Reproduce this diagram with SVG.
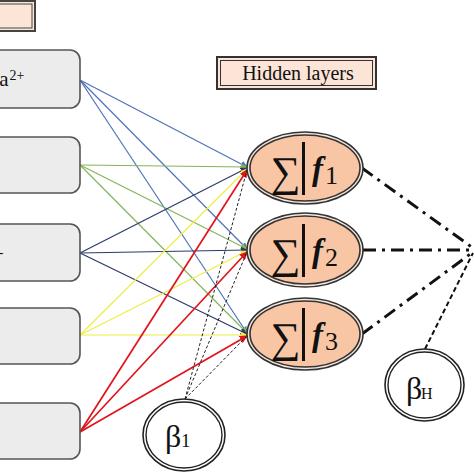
<svg xmlns="http://www.w3.org/2000/svg" width="474" height="474" viewBox="0 0 474 474">
  <style>
    .inbox { fill: #ececec; stroke: #555; stroke-width: 1.6; }
    .serif { font-family: "Liberation Serif", "DejaVu Serif", serif; fill: #111; }
    .outer { fill: #f5e8df; stroke: #333; stroke-width: 1.6; }
    .inner { fill: #f8c6a5; stroke: #333; stroke-width: 1.6; }
    .bouter { fill: #fff; stroke: #222; stroke-width: 1.6; }
    .binner { fill: #fff; stroke: #222; stroke-width: 1.4; }
    .c { fill: none; stroke-width: 1.2; }
    .blue { stroke: #4f72b8; }
    .green { stroke: #86b45a; }
    .navy { stroke: #2b3a6b; }
    .yellow { stroke: #eeee44; }
    .red { stroke: #e0141c; stroke-width: 1.7; }
    .bias { fill: none; stroke: #222; stroke-width: 1; stroke-dasharray: 3 2; }
    .dd { fill: none; stroke: #111; stroke-width: 3; stroke-dasharray: 13 6 3 6; }
    .dash { fill: none; stroke: #111; stroke-width: 2; stroke-dasharray: 5 3; }
  </style>
  <defs>
    <marker id="aBlue" viewBox="0 0 10 10" refX="9" refY="5" markerWidth="7" markerHeight="7" markerUnits="userSpaceOnUse" orient="auto"><path d="M0,0 L10,5 L0,10 z" fill="#4f72b8"/></marker>
    <marker id="aGreen" viewBox="0 0 10 10" refX="9" refY="5" markerWidth="7" markerHeight="7" markerUnits="userSpaceOnUse" orient="auto"><path d="M0,0 L10,5 L0,10 z" fill="#86b45a"/></marker>
    <marker id="aNavy" viewBox="0 0 10 10" refX="9" refY="5" markerWidth="7" markerHeight="7" markerUnits="userSpaceOnUse" orient="auto"><path d="M0,0 L10,5 L0,10 z" fill="#2b3a6b"/></marker>
    <marker id="aYellow" viewBox="0 0 10 10" refX="9" refY="5" markerWidth="7" markerHeight="7" markerUnits="userSpaceOnUse" orient="auto"><path d="M0,0 L10,5 L0,10 z" fill="#eeee44"/></marker>
    <marker id="aRed" viewBox="0 0 10 10" refX="9" refY="5" markerWidth="8" markerHeight="8" markerUnits="userSpaceOnUse" orient="auto"><path d="M0,0 L10,5 L0,10 z" fill="#e0141c"/></marker>
  </defs>
  <rect width="474" height="474" fill="#fff"/>

  <!-- top-left partial label box -->
  <g id="label-input">
    <rect x="-10" y="1" width="45" height="30" fill="#fce4d6" stroke="#444" stroke-width="2"/>
    <rect x="-10" y="4" width="42" height="24" fill="none" stroke="#444" stroke-width="1"/>
  </g>

  <!-- Hidden layers label -->
  <g id="label-hidden">
    <rect x="217" y="57" width="159" height="32" fill="#fce4d6" stroke="#333" stroke-width="2"/>
    <rect x="220.5" y="60.5" width="152" height="25" fill="none" stroke="#333" stroke-width="1"/>
    <text class="serif" x="298" y="80" font-size="20" text-anchor="middle">Hidden layers</text>
  </g>

  <!-- connectors -->
  <g id="connectors">
    <line class="c blue" x1="80" y1="80" x2="247" y2="167" marker-end="url(#aBlue)"/>
    <line class="c blue" x1="80" y1="80" x2="247" y2="249" marker-end="url(#aBlue)"/>
    <line class="c blue" x1="80" y1="80" x2="247" y2="333" marker-end="url(#aBlue)"/>
    <line class="c green" x1="80" y1="165" x2="247" y2="167" marker-end="url(#aGreen)"/>
    <line class="c green" x1="80" y1="165" x2="247" y2="249" marker-end="url(#aGreen)"/>
    <line class="c green" x1="80" y1="165" x2="247" y2="333" marker-end="url(#aGreen)"/>
    <line class="c navy" x1="80" y1="253" x2="247" y2="168" marker-end="url(#aNavy)"/>
    <line class="c navy" x1="80" y1="253" x2="247" y2="250" marker-end="url(#aNavy)"/>
    <line class="c navy" x1="80" y1="253" x2="247" y2="334" marker-end="url(#aNavy)"/>
    <line class="c yellow" x1="80" y1="335" x2="247" y2="169" marker-end="url(#aYellow)"/>
    <line class="c yellow" x1="80" y1="335" x2="247" y2="251" marker-end="url(#aYellow)"/>
    <line class="c yellow" x1="80" y1="335" x2="247" y2="335" marker-end="url(#aYellow)"/>
    <line class="c red" x1="80" y1="432" x2="247" y2="170" marker-end="url(#aRed)"/>
    <line class="c red" x1="80" y1="432" x2="247" y2="252" marker-end="url(#aRed)"/>
    <line class="c red" x1="80" y1="432" x2="247" y2="336" marker-end="url(#aRed)"/>
    <line class="bias" x1="185" y1="399" x2="247" y2="170"/>
    <line class="bias" x1="185" y1="399" x2="247" y2="252"/>
    <line class="bias" x1="185" y1="399" x2="247" y2="336"/>
    <line class="dd" x1="362" y1="168" x2="473" y2="248"/>
    <line class="dd" x1="363" y1="250" x2="473" y2="250"/>
    <line class="dd" x1="362" y1="334" x2="473" y2="252"/>
    <line class="dash" x1="425" y1="349" x2="473" y2="253"/>
  </g>

  <!-- input nodes -->
  <g id="input1">
    <rect class="inbox" x="-12" y="50" width="92" height="58" rx="10"/>
    <text class="serif" x="8.5" y="86" font-size="21" text-anchor="end">a</text>
    <text class="serif" x="9.5" y="80" font-size="14">2+</text>
  </g>
  <g id="input2"><rect class="inbox" x="-12" y="137" width="92" height="56" rx="10"/></g>
  <g id="input3">
    <rect class="inbox" x="-12" y="224" width="92" height="57" rx="10"/>
    <text class="serif" x="3.5" y="257" font-size="14" text-anchor="end">-</text>
  </g>
  <g id="input4"><rect class="inbox" x="-12" y="308" width="92" height="56" rx="10"/></g>
  <g id="input5"><rect class="inbox" x="-12" y="403" width="92" height="56" rx="10"/></g>

  <!-- hidden neurons -->
  <g id="hidden1">
    <ellipse class="outer" cx="305" cy="168" rx="58" ry="36"/>
    <ellipse class="inner" cx="305" cy="168" rx="55" ry="33"/>
    <text class="serif" x="285.5" y="186" font-size="42" text-anchor="middle">∑</text>
    <line x1="303.5" y1="142" x2="303.5" y2="195" stroke="#111" stroke-width="3"/>
    <text class="serif" x="312" y="180" font-size="33" font-style="italic" font-weight="bold">f</text>
    <text class="serif" x="325" y="184" font-size="26">1</text>
  </g>
  <g id="hidden2">
    <ellipse class="outer" cx="305" cy="250" rx="58" ry="37"/>
    <ellipse class="inner" cx="305" cy="250" rx="55" ry="34"/>
    <text class="serif" x="285.5" y="268" font-size="42" text-anchor="middle">∑</text>
    <line x1="303.5" y1="224" x2="303.5" y2="277" stroke="#111" stroke-width="3"/>
    <text class="serif" x="312" y="262" font-size="33" font-style="italic" font-weight="bold">f</text>
    <text class="serif" x="325" y="266" font-size="26">2</text>
  </g>
  <g id="hidden3">
    <ellipse class="outer" cx="305" cy="334" rx="58" ry="36"/>
    <ellipse class="inner" cx="305" cy="334" rx="55" ry="33"/>
    <text class="serif" x="285.5" y="352" font-size="42" text-anchor="middle">∑</text>
    <line x1="303.5" y1="308" x2="303.5" y2="361" stroke="#111" stroke-width="3"/>
    <text class="serif" x="312" y="346" font-size="33" font-style="italic" font-weight="bold">f</text>
    <text class="serif" x="325" y="350" font-size="26">3</text>
  </g>

  <!-- bias nodes -->
  <g id="beta1">
    <ellipse class="bouter" cx="184" cy="435" rx="41" ry="36"/>
    <ellipse class="binner" cx="184" cy="435" rx="38" ry="33"/>
    <text class="serif" x="165" y="447" font-size="32">β</text>
    <text class="serif" x="181" y="447" font-size="19">1</text>
  </g>
  <g id="betaH">
    <ellipse class="bouter" cx="424.5" cy="385" rx="39.5" ry="36"/>
    <ellipse class="binner" cx="424.5" cy="385" rx="36.5" ry="33"/>
    <text class="serif" x="406" y="399" font-size="32">β</text>
    <text class="serif" x="421" y="399" font-size="16">H</text>
  </g>
</svg>
